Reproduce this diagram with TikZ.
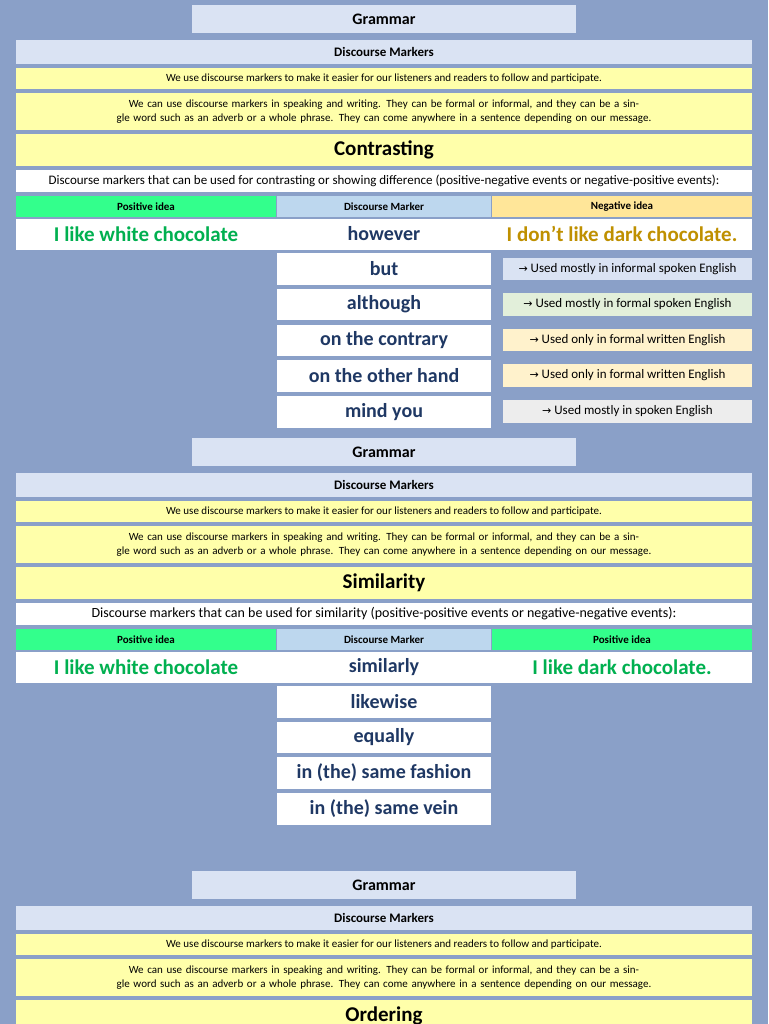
\documentclass[tikz,border=0pt]{standalone}
\usepackage{fontspec}
\setmainfont{Carlito}
\newfontfamily\djv{DejaVu Sans}
\newcommand\arr{{\djv\fontsize{11}{13}\selectfont →}}
\definecolor{bg}{RGB}{138,160,200}
\definecolor{pale}{RGB}{218,227,243}
\definecolor{yel}{RGB}{255,255,170}
\definecolor{pgreen}{RGB}{51,255,140}
\definecolor{pblue}{RGB}{189,215,238}
\definecolor{pgold}{RGB}{255,230,153}
\definecolor{ngreen}{RGB}{226,239,218}
\definecolor{ncream}{RGB}{255,242,204}
\definecolor{ngrey}{RGB}{237,237,237}
\definecolor{tgreen}{RGB}{0,176,80}
\definecolor{tnavy}{RGB}{31,56,100}
\definecolor{tgold}{RGB}{191,144,0}
\tikzset{
 cell/.style={inner sep=0pt, align=center},
 smalltxt/.style={font=\fontsize{11}{14}\selectfont},
 bigtxt/.style={font=\fontsize{21}{24}\selectfont\bfseries},
 mkr/.style={font=\fontsize{20}{24}\selectfont\bfseries, text=tnavy},
 notetxt/.style={font=\fontsize{13}{15}\selectfont},
}
\newcommand\cbox[6]{% name, x1,y1,x2,y2, fill
 \fill[#6] (#2,#3) rectangle (#4,#5);
 \coordinate (#1) at ({(#2+#4)/2},{(#3+#5)/2});}
\newcommand\hdrblock[3]{% prefix, offset, title
 \cbox{#1g}{192}{5+#2}{576}{33+#2}{pale}
 \node[cell,font=\fontsize{16}{18}\selectfont\bfseries] at (#1g) {Grammar};
 \cbox{#1d}{16}{40+#2}{752}{64+#2}{pale}
 \node[cell,font=\fontsize{13}{15}\selectfont\bfseries] at (#1d) {Discourse Markers};
 \cbox{#1a}{16}{68+#2}{752}{89+#2}{yel}
 \node[cell,smalltxt] at (#1a) {We use discourse markers to make it easier for our listeners and readers to follow and participate.};
 \cbox{#1b}{16}{93+#2}{752}{130+#2}{yel}
 \node[cell,smalltxt,text width=725pt] at (#1b) {We can use discourse markers in speaking and writing. They can be formal or informal, and they can be a single word such as an adverb or a whole phrase. They can come anywhere in a sentence depending on our message.};
 \cbox{#1t}{16}{134+#2}{752}{166+#2}{yel}
 \node[cell,font=\fontsize{21}{24}\selectfont\bfseries] at (#1t) {#3};}
\begin{document}
\begin{tikzpicture}[x=1pt,y=-1pt]
\fill[bg] (0,0) rectangle (768,1024);
\useasboundingbox (0,0) rectangle (768,1024);
% Section 1
\hdrblock{a}{0}{Contrasting}
\cbox{adesc}{16}{170}{752}{192}{white}
\node[cell,font=\fontsize{13}{15}\selectfont] at (adesc) {Discourse markers that can be used for contrasting or showing difference (positive-negative events or negative-positive events):};
\cbox{ah1}{16}{196}{276}{217}{pgreen}
\cbox{ah2}{277}{196}{491}{217}{pblue}
\cbox{ah3}{492}{196}{752}{217}{pgold}
\node[cell,font=\fontsize{11}{13}\selectfont\bfseries] at (ah1) {Positive idea};
\node[cell,font=\fontsize{11}{13}\selectfont\bfseries] at (ah2) {Discourse Marker};
\node[cell,font=\fontsize{11}{13}\selectfont\bfseries] at (ah3) {Negative idea};
\cbox{arow}{16}{219}{752}{250}{white}
\node[cell,bigtxt,text=tgreen] at (146,234) {I like white chocolate};
\node[cell,mkr] at (384,234) {however};
\node[cell,bigtxt,text=tgold] at (622,234) {I don’t like dark chocolate.};
\cbox{am1}{277}{253}{491}{285}{white}\node[cell,mkr] at (am1) {but};
\cbox{am2}{277}{289}{491}{320}{white}\node[cell,mkr] at (am2) {although};
\cbox{am3}{277}{325}{491}{356}{white}\node[cell,mkr] at (am3) {on the contrary};
\cbox{am4}{277}{360}{491}{392}{white}\node[cell,mkr] at (am4) {on the other hand};
\cbox{am5}{277}{396}{491}{428}{white}\node[cell,mkr] at (am5) {mind you};
\cbox{an1}{503}{258}{752}{280}{pale}\node[cell,notetxt] at (an1) {\arr{} Used mostly in informal spoken English};
\cbox{an2}{503}{293}{752}{316}{ngreen}\node[cell,notetxt] at (an2) {\arr{} Used mostly in formal spoken English};
\cbox{an3}{503}{329}{752}{351}{ncream}\node[cell,notetxt] at (an3) {\arr{} Used only in formal written English};
\cbox{an4}{503}{364}{752}{387}{ncream}\node[cell,notetxt] at (an4) {\arr{} Used only in formal written English};
\cbox{an5}{503}{400}{752}{423}{ngrey}\node[cell,notetxt] at (an5) {\arr{} Used mostly in spoken English};
% Section 2
\hdrblock{b}{433}{Similarity}
\cbox{bdesc}{16}{603}{752}{625}{white}
\node[cell,font=\fontsize{14}{16}\selectfont] at (bdesc) {Discourse markers that can be used for similarity (positive-positive events or negative-negative events):};
\cbox{bh1}{16}{629}{276}{650}{pgreen}
\cbox{bh2}{277}{629}{491}{650}{pblue}
\cbox{bh3}{492}{629}{752}{650}{pgreen}
\node[cell,font=\fontsize{11}{13}\selectfont\bfseries] at (bh1) {Positive idea};
\node[cell,font=\fontsize{11}{13}\selectfont\bfseries] at (bh2) {Discourse Marker};
\node[cell,font=\fontsize{11}{13}\selectfont\bfseries] at (bh3) {Positive idea};
\cbox{brow}{16}{652}{752}{683}{white}
\node[cell,bigtxt,text=tgreen] at (146,667) {I like white chocolate};
\node[cell,mkr] at (384,667) {similarly};
\node[cell,bigtxt,text=tgreen] at (622,667) {I like dark chocolate.};
\cbox{bm1}{277}{686}{491}{718}{white}\node[cell,mkr] at (bm1) {likewise};
\cbox{bm2}{277}{722}{491}{753}{white}\node[cell,mkr] at (bm2) {equally};
\cbox{bm3}{277}{757}{491}{789}{white}\node[cell,mkr] at (bm3) {in (the) same fashion};
\cbox{bm4}{277}{793}{491}{825}{white}\node[cell,mkr] at (bm4) {in (the) same vein};
% Section 3
\hdrblock{c}{866}{Ordering}
\end{tikzpicture}
\end{document}
